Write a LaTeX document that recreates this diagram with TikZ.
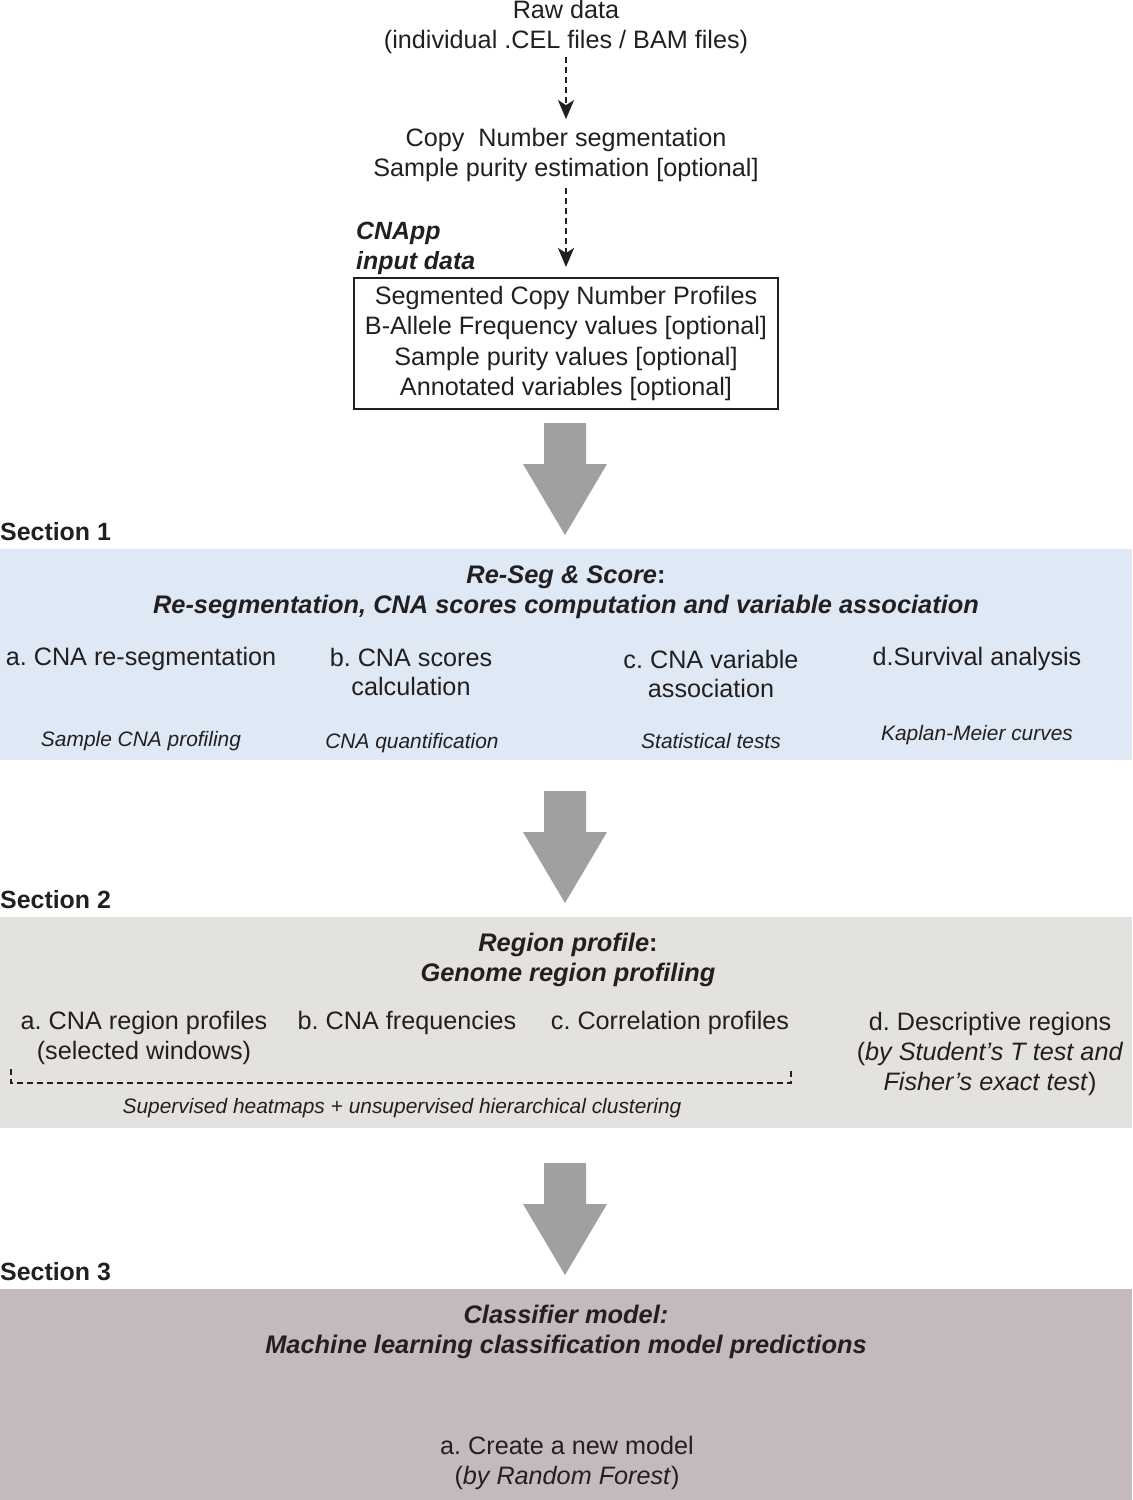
\documentclass[tikz,border=0pt]{standalone}
\usepackage{fontspec}
\setmainfont{Liberation Sans}
\usetikzlibrary{arrows.meta}
\definecolor{bandA}{HTML}{DEE9F5}
\definecolor{bandB}{HTML}{E4E2DE}
\definecolor{bandC}{HTML}{C4BABB}
\definecolor{arrgray}{HTML}{A0A0A2}
\definecolor{ink}{HTML}{231F20}
\frenchspacing
\begin{document}
\begin{tikzpicture}[x=1bp,y=-1bp,
  txt/.style={font=\fontsize{25.3}{30}\selectfont, align=center, inner sep=0pt, text=ink},
  small/.style={font=\fontsize{21}{26}\selectfont\itshape, align=center, inner sep=0pt, text=ink},
  ttl/.style={font=\fontsize{25.5}{30}\selectfont\bfseries, align=center, inner sep=0pt, text=ink},
  sec/.style={font=\fontsize{25}{30}\selectfont\bfseries, anchor=west, inner sep=0pt, text=ink},
  dasharrow/.style={draw=ink, line width=2bp, dash pattern=on 6bp off 4bp, -{Stealth[width=16bp,length=19bp,inset=5bp]}},
  bigarr/.pic={\fill[arrgray] (-21,0) -- (21,0) -- (21,41) -- (42,41) -- (0,112) -- (-42,41) -- (-21,41) -- cycle;}
]
\useasboundingbox (0,0) rectangle (1132,1500);
% bands
\fill[bandA] (0,549) rectangle (1132,760);
\fill[bandB] (0,917) rectangle (1132,1128);
\fill[bandC] (0,1289) rectangle (1132,1500);

% top part
\node[txt] (raw) at (566,27) {Raw data\\(individual .CEL files / BAM files)};
\node[txt] (cn) at (566,155) {Copy\ \ Number segmentation\\Sample purity estimation [optional]};
\node[ttl, align=left, anchor=west, font=\fontsize{25}{30}\selectfont\bfseries\itshape] (cnapp) at (356,248) {CNApp\\input data};
\node[txt, draw=ink, line width=2bp, minimum width=424bp, minimum height=131bp, font=\fontsize{25.3}{30.7}\selectfont] (inbox) at (566,343.5)
  {Segmented Copy Number Profiles\\B-Allele Frequency values [optional]\\Sample purity values [optional]\\Annotated variables [optional]};
\draw[dasharrow, shorten <=3bp, shorten >=9bp] (raw) -- (cn);
\draw[dasharrow, shorten <=6bp, shorten >=10bp] (cn) -- (inbox);

% big arrows
\coordinate (arrA) at (565,423);
\coordinate (arrB) at (565,791);
\coordinate (arrC) at (565,1163);
\pic at (arrA) {bigarr};
\pic at (arrB) {bigarr};
\pic at (arrC) {bigarr};

% Section 1
\node[sec] (s1) at (0,532) {Section 1};
\node[ttl] (t1) at (566,592) {\textit{Re-Seg \& Score}:\\\textit{Re-segmentation, CNA scores computation and variable association}};
\node[txt] (a1) at (141,659) {a. CNA re-segmentation};
\node[txt] (b1) at (411,672) {b. CNA scores\\calculation};
\node[txt] (c1) at (711,674) {c. CNA variable\\association};
\node[txt] (d1) at (977,659) {d.Survival analysis};
\node[small] (sa) at (141,741) {Sample CNA profiling};
\node[small] (sb) at (412,743) {CNA quantification};
\node[small] (sc) at (711,741) {Statistical tests};
\node[small] (sd) at (977,735) {Kaplan-Meier curves};

% Section 2
\node[sec] (s2) at (0,900) {Section 2};
\node[ttl] (t2) at (568,960) {\textit{Region profile}:\\\textit{Genome region profiling}};
\node[txt] (a2) at (144,1038) {a. CNA region profiles\\(selected windows)};
\node[txt] (b2) at (407,1023) {b. CNA frequencies};
\node[txt] (c2) at (670,1023) {c. Correlation profiles};
\node[txt] (d2) at (990,1054) {d. Descriptive regions\\(\textit{by Student’s T test and}\\\textit{Fisher’s exact test})};
\coordinate (brA) at (11,1069);
\coordinate (brB) at (11,1083);
\coordinate (brC) at (791,1083);
\coordinate (brD) at (791,1069);
\draw[ink, line width=2bp, dash pattern=on 6bp off 4bp] (brA) -- (brB) -- (brC) -- (brD);
\node[small] (sup) at (402,1108) {Supervised heatmaps + unsupervised hierarchical clustering};

% Section 3
\node[sec] (s3) at (0,1272) {Section 3};
\node[ttl] (t3) at (566,1332) {\textit{Classifier model:}\\\textit{Machine learning classification model predictions}};
\node[txt] (cr) at (567,1463) {a. Create a new model\\(\textit{by Random Forest})};
\end{tikzpicture}
\end{document}
